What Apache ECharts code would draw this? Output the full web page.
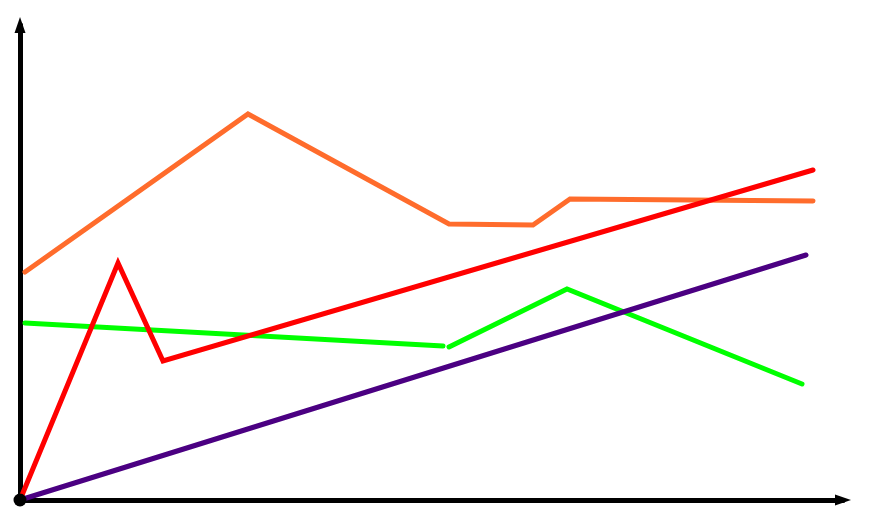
<!DOCTYPE html>
<html><head><meta charset="utf-8">
<script src="https://cdn.jsdelivr.net/npm/echarts@6/dist/echarts.min.js"></script>
<style>html,body{margin:0;padding:0;background:#fff}#c{width:869px;height:527px}</style>
</head><body><div id="c"></div>
<script>
// values (x, y in chart units)
const orange = [[5,228],[228,386],[429,276],[513,275],[550,301],[793,299]];
const red = [[0,0],[98,237],[143,139],[793,330]];
const greenA = [[5,177],[423,154]];
const greenB = [[429,153],[547,211],[782,116]];
const purple = [[0,0],[786,245]];
const origin = [[0,0]];

const chart = echarts.init(document.getElementById('c'));
const lineStyle = (c) => ({color: c, width: 5, cap: 'round', join: 'miter'});
const mk = (data, c) => ({type: 'line', data, symbol: 'none', lineStyle: lineStyle(c), itemStyle: {color: c}, z: 3, animation: false});
const axisLine = {onZero: false, lineStyle: {color: '#000', width: 5}, symbol: ['none', 'triangle'], symbolSize: [11, 16], symbolOffset: [0, 0]};
chart.setOption({
  animation: false,
  grid: {left: 20, right: 26, top: 25, bottom: 27},
  xAxis: {type: 'value', min: 0, max: 823, splitLine: {show: false}, axisTick: {show: false}, axisLabel: {show: false}, axisLine},
  yAxis: {type: 'value', min: 0, max: 475, splitLine: {show: false}, axisTick: {show: false}, axisLabel: {show: false}, axisLine},
  series: [
    mk(orange, '#FF6C2C'),
    mk(greenA, '#00FF00'),
    mk(greenB, '#00FF00'),
    mk(red, '#FF0000'),
    mk(purple, '#4B0082'),
    {type: 'scatter', data: origin, symbol: 'circle', symbolSize: 13, itemStyle: {color: '#000', opacity: 1}, z: 4, animation: false}
  ]
});
</script></body></html>
